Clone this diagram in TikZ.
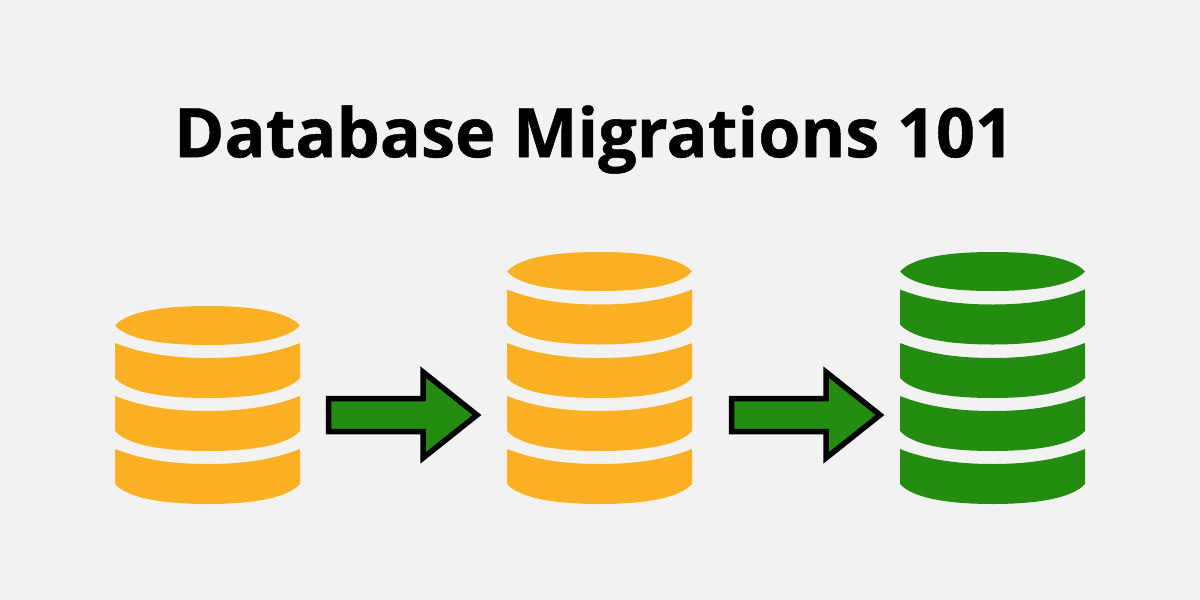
\documentclass[tikz,border=0pt]{standalone}
\usepackage{fontspec}
\setmainfont{Open Sans}[BoldFont={Open Sans Bold},BoldFeatures={FakeBold=0.7}]
\definecolor{bgc}{HTML}{F2F2F2}
\definecolor{amber}{HTML}{FCB125}
\definecolor{leaf}{HTML}{248C10}
\tikzset{
  x=1pt,y=-1pt,
  band/.pic={
    \fill[pic actions] (-92.5,0) .. controls (-62,12) and (-30,15) .. (0,15)
      .. controls (30,15) and (62,12) .. (92.5,0) -- (92.5,35)
      .. controls (80,49) and (45,55) .. (0,55)
      .. controls (-45,55) and (-80,49) .. (-92.5,35) -- cycle;
  },
  disc/.pic={
    \fill[pic actions] (-92.5,0) .. controls (-80,-14) and (-45,-19.5) .. (0,-19.5)
      .. controls (45,-19.5) and (80,-14) .. (92.5,0)
      .. controls (80,14) and (45,19.5) .. (0,19.5)
      .. controls (-45,19.5) and (-80,14) .. (-92.5,0) -- cycle;
  },
  flow/.pic={
    \draw[draw=black,fill=leaf,line width=5.5pt,miter limit=10]
      (328.5,398.5) -- (423,398.5) -- (423,372) -- (477,415) -- (423,458) -- (423,431.5) -- (328.5,431.5) -- cycle;
  }
}
\begin{document}
\begin{tikzpicture}
\path[use as bounding box,fill=bgc] (0,0) rectangle (1200,600);
\node[inner sep=0pt,anchor=center] (title) at (594,139.5) {\resizebox{840pt}{!}{\fontsize{72}{80}\selectfont\bfseries Database Migrations 101}};
% first cylinder
\pic[amber] at (207.5,325.5) {disc};
\pic[amber] at (207.5,343) {band};
\pic[amber] at (207.5,396) {band};
\pic[amber] at (207.5,449) {band};
% second cylinder
\pic[amber] at (599.5,271.5) {disc};
\pic[amber] at (599.5,289.5) {band};
\pic[amber] at (599.5,343) {band};
\pic[amber] at (599.5,396) {band};
\pic[amber] at (599.5,449) {band};
% third cylinder
\pic[leaf] at (992.5,271.5) {disc};
\pic[leaf] at (992.5,289.5) {band};
\pic[leaf] at (992.5,343) {band};
\pic[leaf] at (992.5,396) {band};
\pic[leaf] at (992.5,449) {band};
% arrows
\pic at (0,0) {flow};
\pic at (403,0) {flow};
\end{tikzpicture}
\end{document}
